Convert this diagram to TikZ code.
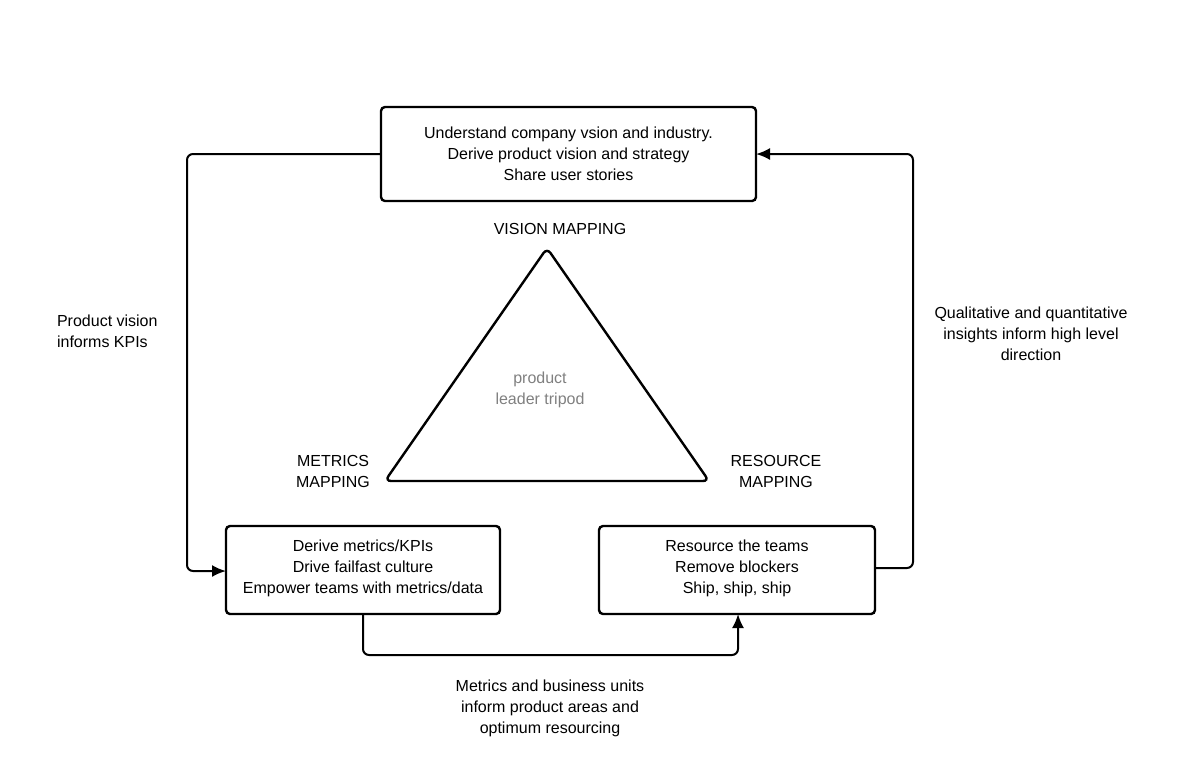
\documentclass[tikz,border=0pt]{standalone}
\usepackage{fontspec}
\setmainfont{Liberation Sans}
\usetikzlibrary{arrows.meta}
\begin{document}
\begin{tikzpicture}[x=0.5pt,y=-0.5pt,
  box/.style={draw,line width=1.2pt,rounded corners=2pt},
  txt/.style={align=center,font=\fontsize{8}{10.5}\selectfont},
  conn/.style={draw,line width=1pt,rounded corners=3pt,-{Latex[length=7pt,width=6pt]}}]
\useasboundingbox (0,0) rectangle (1200,757);
\draw[box] (381,107) rectangle (756,201);
\node[txt] (top) at (568.5,154) {Understand company vsion and industry.\\Derive product vision and strategy\\Share user stories};
\coordinate (topL) at (381,154); \coordinate (topR) at (756,154);
\draw[box] (226,526) rectangle (500,614);
\node[txt] (met) at (363,568) {Derive metrics/KPIs\\Drive failfast culture\\Empower teams with metrics/data};
\coordinate (metL) at (226,571); \coordinate (metB) at (363,614);
\draw[box] (599,526) rectangle (875,614);
\node[txt] (res) at (737,568) {Resource the teams\\Remove blockers\\Ship, ship, ship};
\coordinate (resR) at (875,568); \coordinate (resB) at (738,614);
\draw[line width=1.2pt,rounded corners=3pt] (547,248) -- (709,481) -- (385,481) -- cycle;
\node[txt] (vm) at (560,229) {VISION MAPPING};
\node[txt] (mm) at (333,471) {METRICS\\MAPPING};
\node[txt] (rm) at (776,471) {RESOURCE\\MAPPING};
\node[txt,text=gray] (tri) at (540,390) {product\\leader tripod};
\draw[conn] (topL) -- (187,154) -- (187,571) -- (metL);
\draw[conn] (resR) -- (913,568) -- (913,154) -- (topR);
\draw[conn] (metB) -- (363,655) -- (738,655) -- (resB);
\node[txt,align=left,anchor=west] (l1) at (50,331) {Product vision\\informs KPIs};
\node[txt] (l2) at (1031,334) {Qualitative and quantitative\\insights inform high level\\direction};
\node[txt] (l3) at (550,708) {Metrics and business units\\inform product areas and\\optimum resourcing};
\end{tikzpicture}
\end{document}
